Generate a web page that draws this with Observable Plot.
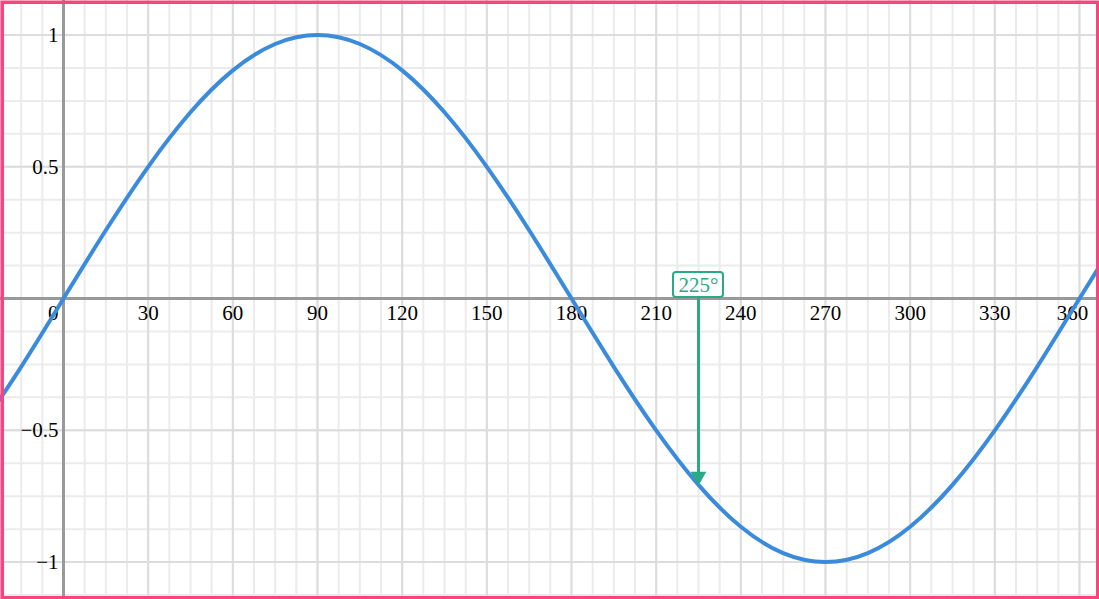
<!DOCTYPE html>
<html><head><meta charset="utf-8">
<script src="https://cdn.jsdelivr.net/npm/d3@7"></script>
<script src="https://cdn.jsdelivr.net/npm/@observablehq/plot@0.6"></script>
<style>body{margin:0;background:#fff;overflow:hidden} svg text{font-family:"Liberation Serif","DejaVu Serif",serif !important}</style>
</head><body><div id="chart"></div>
<script>
// Curve samples (degrees, value)
const angles = [-30,-15,0,15,30,45,60,75,90,105,120,135,150,165,180,195,210,225,240,255,270,285,300,315,330,345,360,375];
const sineValues = [-0.5,-0.259,0,0.259,0.5,0.707,0.866,0.966,1,0.966,0.866,0.707,0.5,0.259,0,-0.259,-0.5,-0.707,-0.866,-0.966,-1,-0.966,-0.866,-0.707,-0.5,-0.259,0,0.259];
const xTickLabels = [0,30,60,90,120,150,180,210,240,270,300,330,360];
const yTickLabels = [1,0.5,-0.5,-1];
const markedAngle = [225];
const markedValue = [-0.707];
const markedLabel = ["225°"];

const curve = angles.map((a, i) => ({angle: a, value: sineValues[i]}));
const marker = markedAngle.map((a, i) => ({angle: a, value: markedValue[i], label: markedLabel[i]}));

const minorX = d3.range(-22.5, 368, 7.5);
const majorX = d3.range(-30, 370, 30);
const minorY = d3.range(-1.125, 1.13, 0.125);
const majorY = d3.range(-1, 1.01, 0.5);

const blue = "#3b8bdc";
const green = "#2aa985";
const pink = "#f8457f";
const font = "'Liberation Serif', serif";
const fmt = v => (v < 0 ? "\u2212" : "") + Math.abs(v);
const tx = {fontSize: 21, fill: "#000", fontFamily: font};

const chart = Plot.plot({
  width: 1099,
  height: 599,
  margin: 0,
  x: {domain: [-22.32, 367.09], axis: null},
  y: {domain: [-1.142, 1.131], axis: null},
  style: {fontFamily: font, background: "#fff"},
  marks: [
    Plot.ruleX(minorX, {stroke: "#ebebeb", strokeWidth: 2}),
    Plot.ruleY(minorY, {stroke: "#ebebeb", strokeWidth: 2}),
    Plot.ruleX(majorX, {stroke: "#dcdcdc", strokeWidth: 2}),
    Plot.ruleY(majorY, {stroke: "#dcdcdc", strokeWidth: 2}),
    Plot.ruleX([0], {stroke: "#999", strokeWidth: 3}),
    Plot.ruleY([0], {stroke: "#999", strokeWidth: 3}),
    Plot.text(xTickLabels.filter(v => v !== 0 && v !== 360), {x: d => d, y: 0, text: d => fmt(d), lineAnchor: "top", dy: 7, ...tx}),
    Plot.text([0], {x: 0, y: 0, text: d => fmt(d), lineAnchor: "top", textAnchor: "end", dy: 7, dx: -5, ...tx}),
    Plot.text([360], {x: d => d, y: 0, text: d => fmt(d), lineAnchor: "top", dy: 7, dx: -7, ...tx}),
    Plot.text(yTickLabels, {x: 0, y: d => d, text: d => fmt(d), textAnchor: "end", lineAnchor: "middle", dx: -5, ...tx}),
    Plot.line(curve, {x: "angle", y: "value", curve: "natural", stroke: blue, strokeWidth: 4, clip: true}),
    Plot.ruleX(marker, {x: "angle", y1: 0, y2: "value", stroke: green, strokeWidth: 3, insetBottom: 12}),
    Plot.dot(marker, {x: "angle", y: "value", symbol: "triangle", rotate: 180, r: 5.8, dy: -8.5, fill: green, stroke: "none"}),
    Plot.rect(marker, {x1: "angle", x2: "angle", y1: 0, y2: 0, insetLeft: -25, insetRight: -25, insetTop: -26, insetBottom: 1, rx: 3, fill: "#fff", stroke: green, strokeWidth: 2}),
    Plot.text(marker, {x: "angle", y: 0, text: "label", dy: -13, lineAnchor: "middle", fontSize: 21, fill: green, fontFamily: font}),
    Plot.frame({stroke: pink, strokeWidth: 3.5, inset: 1.75})
  ]
});
document.getElementById("chart").appendChild(chart);
</script>
</body></html>
